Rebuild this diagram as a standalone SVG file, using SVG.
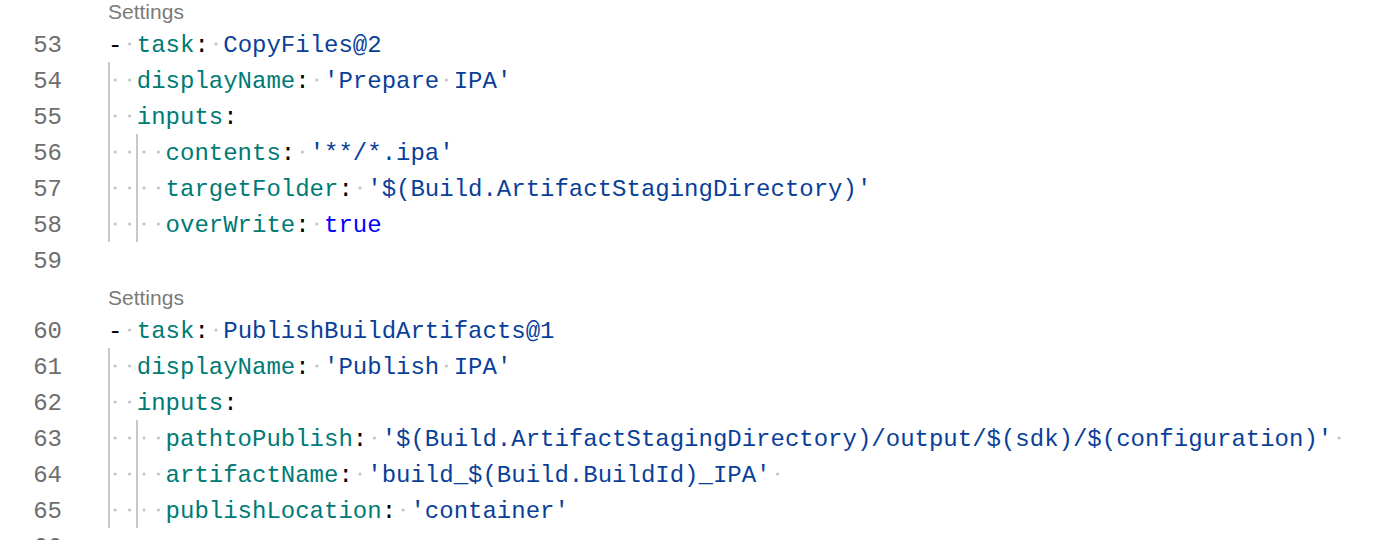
<svg xmlns="http://www.w3.org/2000/svg" width="1400" height="540" viewBox="0 0 1400 540">
<style>
.c{font-family:"Liberation Mono",monospace;font-size:24px;white-space:pre}
.n{font-family:"Liberation Mono",monospace;font-size:24px;fill:#6e6e6e;text-anchor:end}
.s{font-family:"Liberation Sans",Arial,sans-serif;font-size:21px;fill:#7a7a7a}
.k{fill:#007a75}.v{fill:#0a3f99}.b{fill:#0000ff}.p{fill:#000}
.g{stroke:#c8c8c8;stroke-width:2}
.d{fill:#c4c4c4}
</style>
<rect width="1400" height="540" fill="#fff"/>
<g id="lineNumbers">
<text class="n" x="62" y="52">53</text><text class="n" x="62" y="88">54</text><text class="n" x="62" y="124">55</text><text class="n" x="62" y="160">56</text><text class="n" x="62" y="196">57</text><text class="n" x="62" y="232">58</text><text class="n" x="62" y="268">59</text>
<text class="n" x="62" y="338">60</text><text class="n" x="62" y="374">61</text><text class="n" x="62" y="410">62</text><text class="n" x="62" y="446">63</text><text class="n" x="62" y="482">64</text><text class="n" x="62" y="518">65</text><text class="n" x="62" y="554">66</text>
</g>
<g id="codelens">
<text class="s" x="108" y="19">Settings</text>
<text class="s" x="108" y="305">Settings</text>
</g>
<g id="guides">
<line class="g" x1="109" y1="62" x2="109" y2="242"/><line class="g" x1="137" y1="134" x2="137" y2="242"/>
<line class="g" x1="109" y1="348" x2="109" y2="528"/><line class="g" x1="137" y1="420" x2="137" y2="528"/>
</g>
<g id="code" class="c" xml:space="preserve">
<text x="108" y="52"><tspan class="p">- </tspan><tspan class="k">task</tspan><tspan class="p">: </tspan><tspan class="v">CopyFiles@2</tspan></text>
<text x="136.8" y="88"><tspan class="k">displayName</tspan><tspan class="p">: </tspan><tspan class="v">'Prepare IPA'</tspan></text>
<text x="136.8" y="124"><tspan class="k">inputs</tspan><tspan class="p">:</tspan></text>
<text x="165.6" y="160"><tspan class="k">contents</tspan><tspan class="p">: </tspan><tspan class="v">'**/*.ipa'</tspan></text>
<text x="165.6" y="196"><tspan class="k">targetFolder</tspan><tspan class="p">: </tspan><tspan class="v">'$(Build.ArtifactStagingDirectory)'</tspan></text>
<text x="165.6" y="232"><tspan class="k">overWrite</tspan><tspan class="p">: </tspan><tspan class="b">true</tspan></text>
<text x="108" y="338"><tspan class="p">- </tspan><tspan class="k">task</tspan><tspan class="p">: </tspan><tspan class="v">PublishBuildArtifacts@1</tspan></text>
<text x="136.8" y="374"><tspan class="k">displayName</tspan><tspan class="p">: </tspan><tspan class="v">'Publish IPA'</tspan></text>
<text x="136.8" y="410"><tspan class="k">inputs</tspan><tspan class="p">:</tspan></text>
<text x="165.6" y="446"><tspan class="k">pathtoPublish</tspan><tspan class="p">: </tspan><tspan class="v">'$(Build.ArtifactStagingDirectory)/output/$(sdk)/$(configuration)'</tspan></text>
<text x="165.6" y="482"><tspan class="k">artifactName</tspan><tspan class="p">: </tspan><tspan class="v">'build_$(Build.BuildId)_IPA'</tspan></text>
<text x="165.6" y="518"><tspan class="k">publishLocation</tspan><tspan class="p">: </tspan><tspan class="v">'container'</tspan></text>
</g>
<g id="whitespace" class="d">
<circle cx="129.6" cy="44" r="1.6"/><circle cx="216" cy="44" r="1.6"/>
<circle cx="115.2" cy="80" r="1.6"/><circle cx="129.6" cy="80" r="1.6"/><circle cx="316.8" cy="80" r="1.6"/><circle cx="446.4" cy="80" r="1.6"/>
<circle cx="115.2" cy="116" r="1.6"/><circle cx="129.6" cy="116" r="1.6"/>
<circle cx="115.2" cy="152" r="1.6"/><circle cx="129.6" cy="152" r="1.6"/><circle cx="144" cy="152" r="1.6"/><circle cx="158.4" cy="152" r="1.6"/><circle cx="302.4" cy="152" r="1.6"/>
<circle cx="115.2" cy="188" r="1.6"/><circle cx="129.6" cy="188" r="1.6"/><circle cx="144" cy="188" r="1.6"/><circle cx="158.4" cy="188" r="1.6"/><circle cx="360" cy="188" r="1.6"/>
<circle cx="115.2" cy="224" r="1.6"/><circle cx="129.6" cy="224" r="1.6"/><circle cx="144" cy="224" r="1.6"/><circle cx="158.4" cy="224" r="1.6"/><circle cx="316.8" cy="224" r="1.6"/>
<circle cx="129.6" cy="330" r="1.6"/><circle cx="216" cy="330" r="1.6"/>
<circle cx="115.2" cy="366" r="1.6"/><circle cx="129.6" cy="366" r="1.6"/><circle cx="316.8" cy="366" r="1.6"/><circle cx="446.4" cy="366" r="1.6"/>
<circle cx="115.2" cy="402" r="1.6"/><circle cx="129.6" cy="402" r="1.6"/>
<circle cx="115.2" cy="438" r="1.6"/><circle cx="129.6" cy="438" r="1.6"/><circle cx="144" cy="438" r="1.6"/><circle cx="158.4" cy="438" r="1.6"/><circle cx="374.4" cy="438" r="1.6"/><circle cx="1339.2" cy="438" r="1.6"/>
<circle cx="115.2" cy="474" r="1.6"/><circle cx="129.6" cy="474" r="1.6"/><circle cx="144" cy="474" r="1.6"/><circle cx="158.4" cy="474" r="1.6"/><circle cx="360" cy="474" r="1.6"/><circle cx="777.6" cy="474" r="1.6"/>
<circle cx="115.2" cy="510" r="1.6"/><circle cx="129.6" cy="510" r="1.6"/><circle cx="144" cy="510" r="1.6"/><circle cx="158.4" cy="510" r="1.6"/><circle cx="403.2" cy="510" r="1.6"/>
</g>
</svg>
